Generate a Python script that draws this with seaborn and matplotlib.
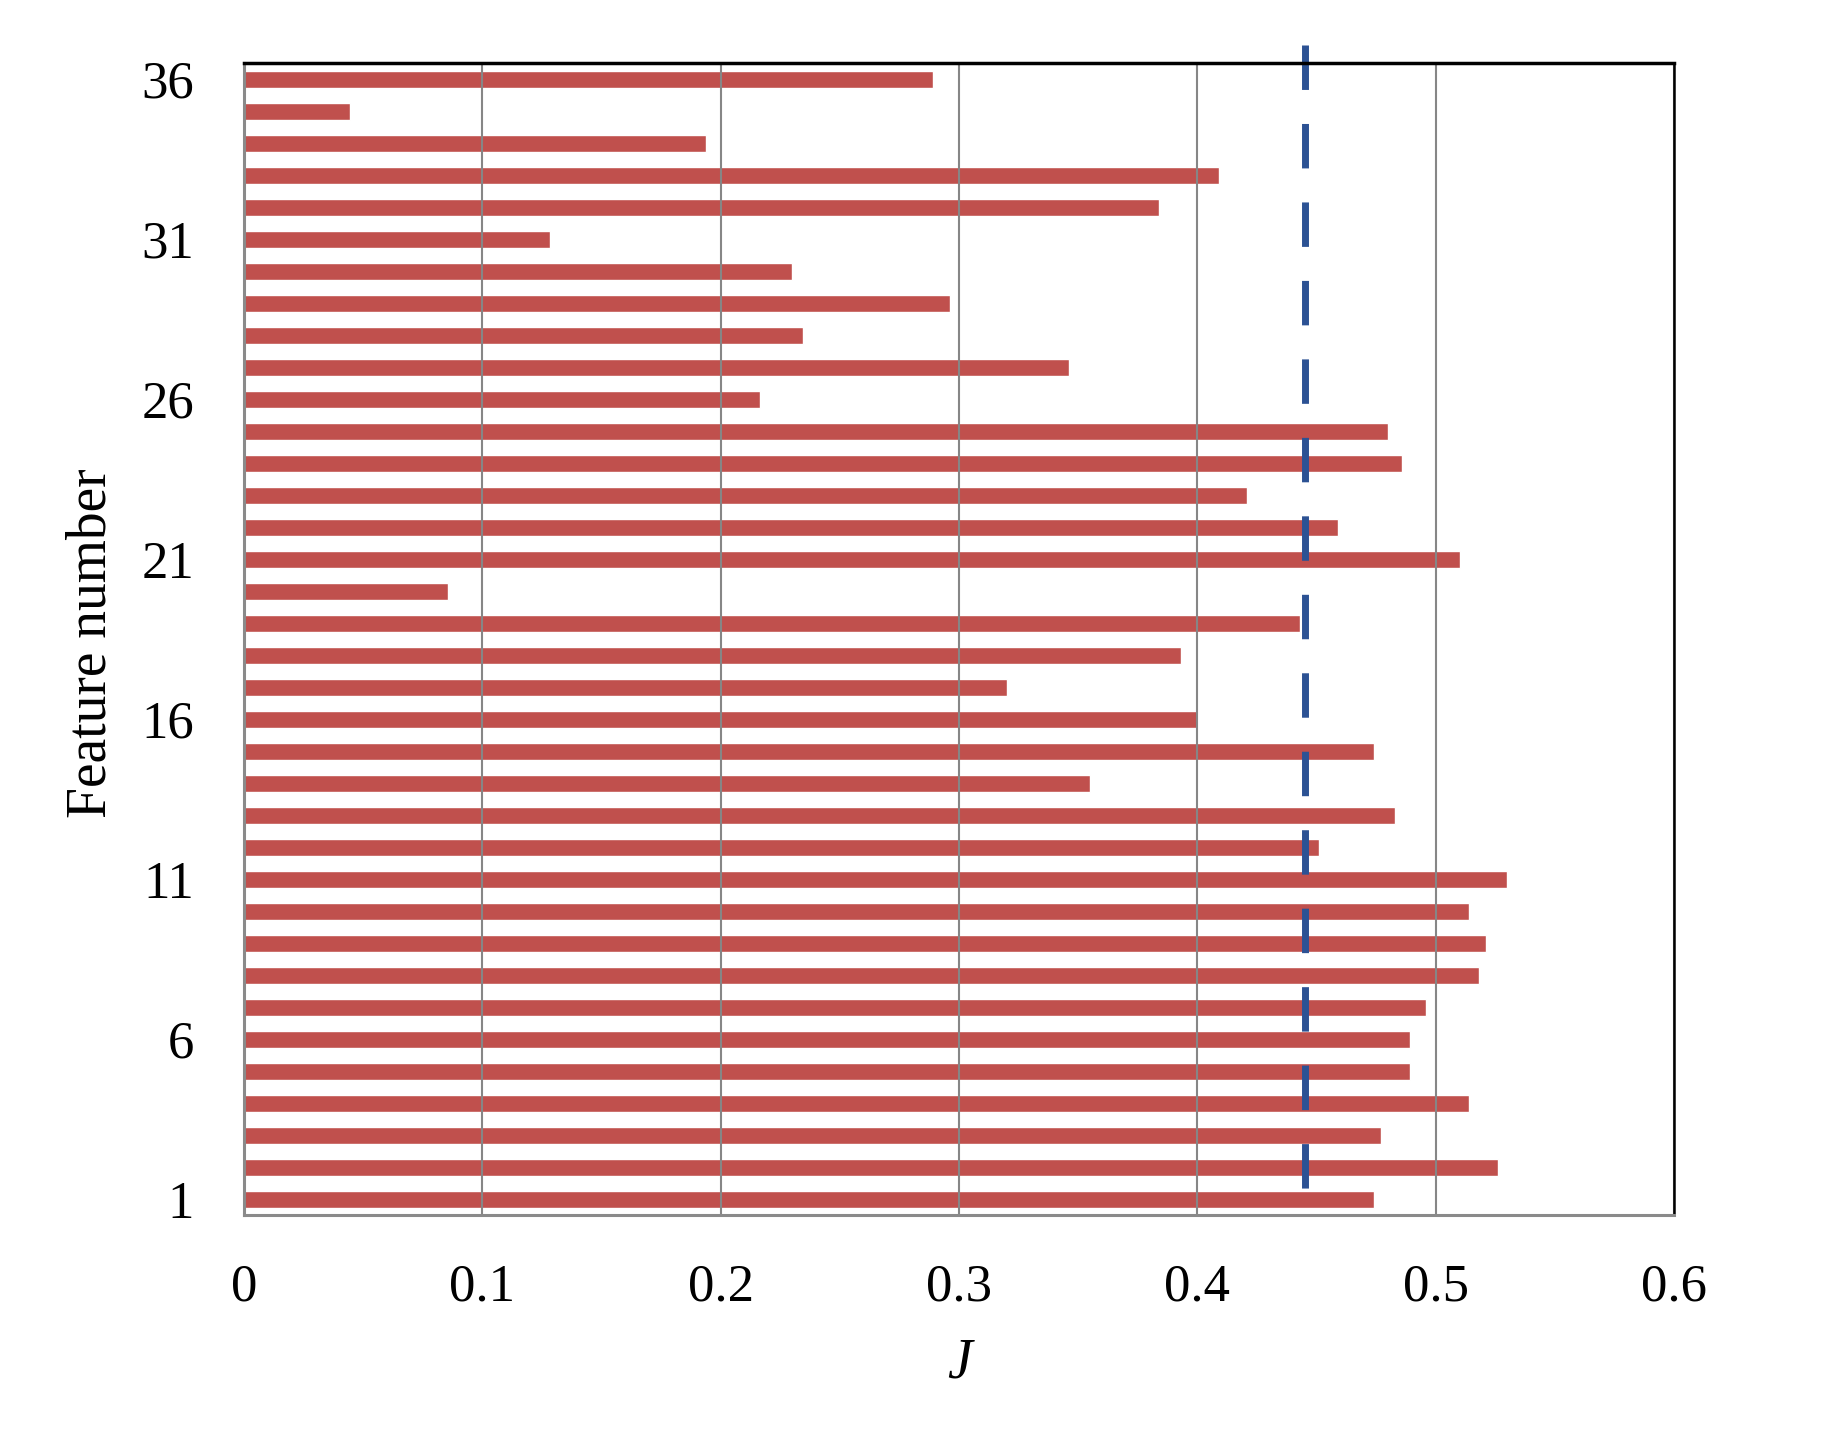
import numpy as np
import pandas as pd
import seaborn as sns
import matplotlib.pyplot as plt

# feature numbers and J values (feature 1 first)
features = list(range(1, 37))
j_values = [0.474, 0.526, 0.477, 0.514, 0.489, 0.489, 0.496, 0.518, 0.521, 0.514,
            0.530, 0.451, 0.483, 0.355, 0.474, 0.400, 0.320, 0.393, 0.443, 0.0855,
            0.510, 0.459, 0.421, 0.486, 0.480, 0.2165, 0.346, 0.2345, 0.296, 0.230,
            0.1285, 0.384, 0.409, 0.194, 0.0446, 0.289]
threshold = 0.445
x_ticks = [0, 0.1, 0.2, 0.3, 0.4, 0.5, 0.6]
x_tick_labels = ["0", "0.1", "0.2", "0.3", "0.4", "0.5", "0.6"]
y_ticks = [1, 6, 11, 16, 21, 26, 31, 36]

df = pd.DataFrame({"Feature": features, "J": j_values})

sns.set_style("white")
plt.rcParams['font.family'] = ['Liberation Serif', 'DejaVu Serif']
plt.rcParams['text.color'] = 'black'
plt.rcParams['axes.labelcolor'] = 'black'
plt.rcParams['xtick.color'] = 'black'
plt.rcParams['ytick.color'] = 'black'

fig = plt.figure(figsize=(18.28, 14.40), dpi=100)
ax = fig.add_axes([0.1335, 0.156, 0.7823, 0.800])

sns.barplot(data=df, x="J", y="Feature", orient="h", native_scale=True,
            width=0.52, color="#C0504D", saturation=1, ax=ax, zorder=2)

# threshold line (goes a bit over the top of the frame)
ax.plot([threshold, threshold], [37.07, 1.03], color="#2C5294", lw=5,
        dashes=(6.4, 4.9), clip_on=False, zorder=5)

ax.set_xlim(0, 0.6)
ax.set_ylim(0.5, 36.5)
ax.set_xticks(x_ticks)
ax.set_xticklabels(x_tick_labels)
ax.set_yticks(y_ticks)
ax.tick_params(axis="both", length=0, labelsize=38, labelcolor="black")
ax.tick_params(axis="y", pad=36)
ax.tick_params(axis="x", pad=35)

ax.set_axisbelow(False)
ax.xaxis.grid(True, color="#868686", lw=1.5, zorder=3)
ax.yaxis.grid(False)

for side in ["left", "bottom"]:
    ax.spines[side].set_color("#8A8A8A")
    ax.spines[side].set_linewidth(2.2)
ax.spines["top"].set_color("black")
ax.spines["top"].set_linewidth(2.5)
ax.spines["right"].set_color("black")
ax.spines["right"].set_linewidth(1.8)
for s in ax.spines.values():
    s.set_zorder(6)

ax.set_xlabel("J", fontsize=40, style="italic", color="black")
ax.xaxis.set_label_coords(0.5, -0.129)
ax.xaxis.label.set_va("center")
ax.set_ylabel("Feature number", fontsize=40, color="black")
ax.yaxis.set_label_coords(-0.107, 0.4965)
ax.yaxis.label.set_va("center")

plt.savefig("out.png", dpi=100)
